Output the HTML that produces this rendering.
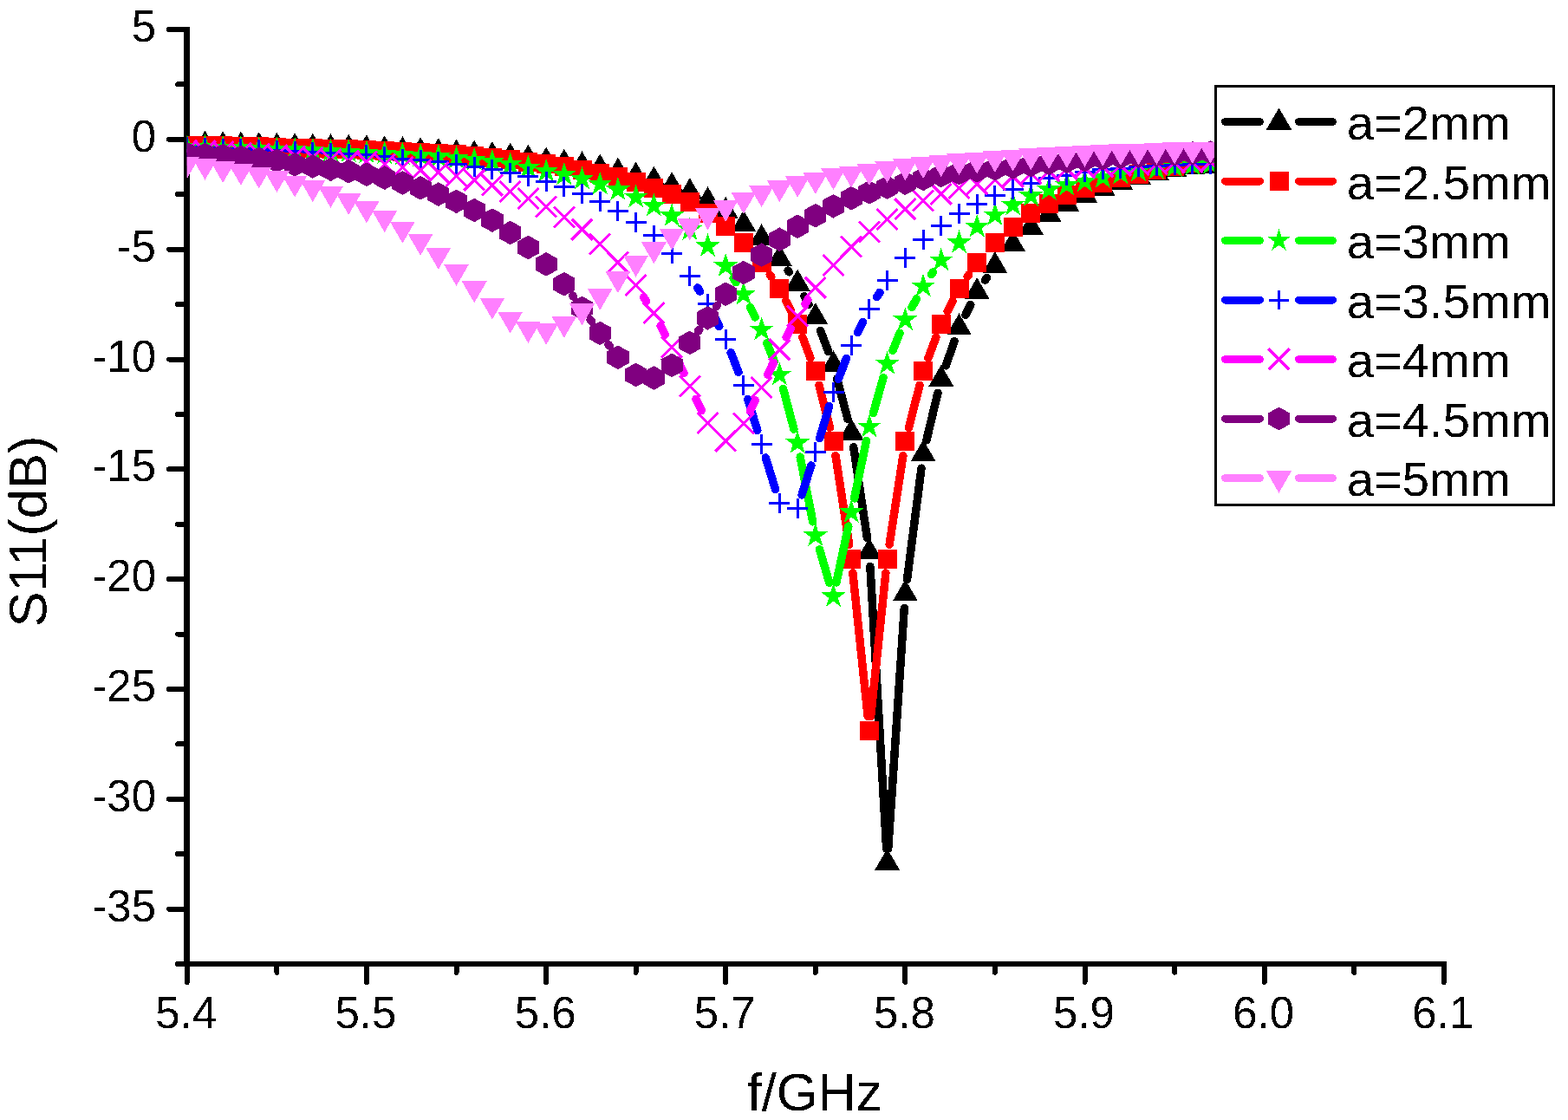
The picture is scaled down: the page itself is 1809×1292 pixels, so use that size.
<!DOCTYPE html>
<html><head><meta charset="utf-8"><title>S11 vs f</title>
<style>
html,body{margin:0;padding:0;background:#fff;}
body{width:1809px;height:1292px;overflow:hidden;}
svg{display:block;}
text{font-family:"Liberation Sans",sans-serif;fill:#000;}
</style></head><body>
<svg width="1809" height="1292" viewBox="0 0 1809 1292" shape-rendering="crispEdges">
<rect width="1809" height="1292" fill="#fff"/>
<defs><filter id="bw" x="0" y="0" width="1" height="1"><feComponentTransfer><feFuncA type="discrete" tableValues="0 1"/></feComponentTransfer></filter><clipPath id="pc"><rect x="215.6" y="0" width="1460" height="1112"/></clipPath></defs>
<path d="M215.5 31V1115" stroke="#000" stroke-width="7" fill="none"/>
<path d="M212.6 1112H1668.8" stroke="#000" stroke-width="6" fill="none"/>
<path d="M215.6 34H195M215.6 160.8H195M215.6 287.6H195M215.6 414.5H195M215.6 541.3H195M215.6 668.1H195M215.6 794.9H195M215.6 921.8H195M215.6 1048.6H195M215.6 97.4H205M215.6 224.2H205M215.6 351.1H205M215.6 477.9H205M215.6 604.7H205M215.6 731.5H205M215.6 858.4H205M215.6 985.2H205M215.6 1112H205M215.8 1112V1133M422.9 1112V1133M630.1 1112V1133M837.2 1112V1133M1044.4 1112V1133M1251.5 1112V1133M1458.6 1112V1133M1665.8 1112V1133M319.4 1112V1121.7M526.5 1112V1121.7M733.6 1112V1121.7M940.8 1112V1121.7M1147.9 1112V1121.7M1355.1 1112V1121.7M1562.2 1112V1121.7" stroke="#000" stroke-width="6" stroke-linecap="round" fill="none"/>
<g filter="url(#bw)"><g font-size="51"><text x="180" y="48" text-anchor="end">5</text><text x="180" y="174.8" text-anchor="end">0</text><text x="180" y="301.6" text-anchor="end">-5</text><text x="180" y="428.5" text-anchor="end">-10</text><text x="180" y="555.3" text-anchor="end">-15</text><text x="180" y="682.1" text-anchor="end">-20</text><text x="180" y="808.9" text-anchor="end">-25</text><text x="180" y="935.8" text-anchor="end">-30</text><text x="180" y="1062.6" text-anchor="end">-35</text><text x="214.8" y="1186" text-anchor="middle">5.4</text><text x="421.9" y="1186" text-anchor="middle">5.5</text><text x="629.1" y="1186" text-anchor="middle">5.6</text><text x="836.2" y="1186" text-anchor="middle">5.7</text><text x="1043.4" y="1186" text-anchor="middle">5.8</text><text x="1250.5" y="1186" text-anchor="middle">5.9</text><text x="1457.6" y="1186" text-anchor="middle">6.0</text><text x="1664.8" y="1186" text-anchor="middle">6.1</text></g>
<text x="940" y="1281" font-size="61.2" text-anchor="middle">f/GHz</text>
<text transform="translate(53.4 613) rotate(-90)" font-size="61.5" text-anchor="middle">S11(dB)</text></g>
<g clip-path="url(#pc)">
<path d="M909.1 312.1L910.4 313.8M927.9 341.7L933 351.3M946.6 381.3L955.7 405.5M965.7 436.9L978 483.4M984.7 515.7L1000.5 620.7M1003.9 653.4L1022.7 979M1024.7 979L1043.3 701.4M1046.5 668.6L1063 540.2M1068.9 507.8L1081.9 453.4M1091.2 421.8L1101.1 393.6M1113.9 363.3L1119.8 351.5M1136.6 323.2L1138.6 320.3" stroke="#000000" stroke-width="9.5" stroke-linecap="round" fill="none"/>
<path d="M215.8 150.3L230.3 175.3L201.3 175.3ZM236.5 150.6L251 175.6L222 175.6ZM257.2 151.3L271.7 176.3L242.7 176.3ZM277.9 151.7L292.4 176.7L263.4 176.7ZM298.7 152.3L313.2 177.3L284.2 177.3ZM319.4 152.7L333.9 177.7L304.9 177.7ZM340.1 153.1L354.6 178.1L325.6 178.1ZM360.8 153.6L375.3 178.6L346.3 178.6ZM381.5 154.2L396 179.2L367 179.2ZM402.2 154.7L416.7 179.7L387.7 179.7ZM422.9 155.4L437.4 180.4L408.4 180.4ZM443.7 156.4L458.2 181.4L429.2 181.4ZM464.4 157.3L478.9 182.3L449.9 182.3ZM485.1 158.3L499.6 183.3L470.6 183.3ZM505.8 159.2L520.3 184.2L491.3 184.2ZM526.5 160.5L541 185.5L512 185.5ZM547.2 161.6L561.7 186.6L532.7 186.6ZM567.9 163L582.4 188L553.4 188ZM588.7 164.5L603.2 189.5L574.2 189.5ZM609.4 166.6L623.9 191.6L594.9 191.6ZM630.1 169.5L644.6 194.5L615.6 194.5ZM650.8 171.6L665.3 196.6L636.3 196.6ZM671.5 174.4L686 199.4L657 199.4ZM692.2 177.5L706.7 202.5L677.7 202.5ZM712.9 181.7L727.4 206.7L698.4 206.7ZM733.6 186.6L748.1 211.6L719.1 211.6ZM754.4 191.6L768.9 216.6L739.9 216.6ZM775.1 198.3L789.6 223.3L760.6 223.3ZM795.8 205.2L810.3 230.2L781.3 230.2ZM816.5 215.3L831 240.3L802 240.3ZM837.2 226.9L851.7 251.9L822.7 251.9ZM857.9 242.4L872.4 267.4L843.4 267.4ZM878.6 258.3L893.1 283.3L864.1 283.3ZM899.4 282.1L913.9 307.1L884.9 307.1ZM920.1 310.5L934.6 335.5L905.6 335.5ZM940.8 349.2L955.3 374.2L926.3 374.2ZM961.5 404.3L976 429.3L947 429.3ZM982.2 482.7L996.7 507.7L967.7 507.7ZM1002.9 620.3L1017.4 645.3L988.4 645.3ZM1023.6 978.8L1038.1 1003.8L1009.1 1003.8ZM1044.4 668.3L1058.9 693.3L1029.9 693.3ZM1065.1 507.2L1079.6 532.2L1050.6 532.2ZM1085.8 420.7L1100.3 445.7L1071.3 445.7ZM1106.5 361.4L1121 386.4L1092 386.4ZM1127.2 320.1L1141.7 345.1L1112.7 345.1ZM1147.9 290.1L1162.4 315.1L1133.4 315.1ZM1168.6 265.2L1183.1 290.2L1154.1 290.2ZM1189.4 245.8L1203.9 270.8L1174.9 270.8ZM1210.1 231L1224.6 256L1195.6 256ZM1230.8 218.9L1245.3 243.9L1216.3 243.9ZM1251.5 208.8L1266 233.8L1237 233.8ZM1272.2 200.9L1286.7 225.9L1257.7 225.9ZM1292.9 194.3L1307.4 219.3L1278.4 219.3ZM1313.6 188.2L1328.1 213.2L1299.1 213.2ZM1334.4 182.9L1348.9 207.9L1319.9 207.9ZM1355.1 179.1L1369.6 204.1L1340.6 204.1ZM1375.8 175.9L1390.3 200.9L1361.3 200.9ZM1396.5 174.6L1411 199.6L1382 199.6ZM1417.2 173.5L1431.7 198.5L1402.7 198.5ZM1437.9 172.6L1452.4 197.6L1423.4 197.6ZM1458.6 171.8L1473.1 196.8L1444.1 196.8ZM1479.4 171.1L1493.9 196.1L1464.9 196.1ZM1500.1 170.5L1514.6 195.5L1485.6 195.5ZM1520.8 170L1535.3 195L1506.3 195ZM1541.5 169.6L1556 194.6L1527 194.6ZM1562.2 169.2L1576.7 194.2L1547.7 194.2ZM1582.9 168.9L1597.4 193.9L1568.4 193.9ZM1603.6 168.7L1618.1 193.7L1589.1 193.7ZM1624.4 168.5L1638.9 193.5L1609.9 193.5ZM1645.1 168.3L1659.6 193.3L1630.6 193.3ZM1665.8 168.1L1680.3 193.1L1651.3 193.1Z" fill="#000000"/>
<path d="M888.2 316.9L889.8 319.2M906.8 347.4L912.6 358.9M925.9 389L935 413M944.9 444.4L957.4 493.3M964 525.6L979.7 628.2M983.9 660.9L1001.2 826.5M1004.6 826.5L1021.9 660.9M1026.1 628.2L1041.9 525.6M1048.5 493.3L1061 444.4M1070.9 413L1080 389M1093.2 358.9L1099 347.4M1116 319.2L1117.7 316.9" stroke="#ff0000" stroke-width="9.5" stroke-linecap="round" fill="none"/>
<path d="M204.8 156.7h22v22h-22ZM225.5 157h22v22h-22ZM246.2 157.4h22v22h-22ZM266.9 157.9h22v22h-22ZM287.7 158.4h22v22h-22ZM308.4 159h22v22h-22ZM329.1 159.6h22v22h-22ZM349.8 160.2h22v22h-22ZM370.5 160.8h22v22h-22ZM391.2 161.4h22v22h-22ZM411.9 162.1h22v22h-22ZM432.7 163h22v22h-22ZM453.4 164h22v22h-22ZM474.1 165h22v22h-22ZM494.8 166.1h22v22h-22ZM515.5 167.4h22v22h-22ZM536.2 168.9h22v22h-22ZM556.9 170.7h22v22h-22ZM577.7 172.7h22v22h-22ZM598.4 175.5h22v22h-22ZM619.1 177.5h22v22h-22ZM639.8 180.6h22v22h-22ZM660.5 184.7h22v22h-22ZM681.2 188.6h22v22h-22ZM701.9 192.6h22v22h-22ZM722.6 198.5h22v22h-22ZM743.4 205.5h22v22h-22ZM764.1 213.3h22v22h-22ZM784.8 222h22v22h-22ZM805.5 235h22v22h-22ZM826.2 249.8h22v22h-22ZM846.9 268.7h22v22h-22ZM867.6 292.4h22v22h-22ZM888.4 321.7h22v22h-22ZM909.1 362.6h22v22h-22ZM929.8 417.4h22v22h-22ZM950.5 498.3h22v22h-22ZM971.2 633.5h22v22h-22ZM991.9 831.9h22v22h-22ZM1012.6 633.5h22v22h-22ZM1033.4 498.3h22v22h-22ZM1054.1 417.4h22v22h-22ZM1074.8 362.6h22v22h-22ZM1095.5 321.7h22v22h-22ZM1116.2 292.4h22v22h-22ZM1136.9 268.7h22v22h-22ZM1157.6 250.8h22v22h-22ZM1178.4 235h22v22h-22ZM1199.1 224h22v22h-22ZM1219.8 213.6h22v22h-22ZM1240.5 205.8h22v22h-22ZM1261.2 199.5h22v22h-22ZM1281.9 194h22v22h-22ZM1302.6 189.5h22v22h-22ZM1323.4 184.6h22v22h-22ZM1344.1 180.8h22v22h-22ZM1364.8 177h22v22h-22ZM1385.5 175.1h22v22h-22ZM1406.2 173.5h22v22h-22ZM1426.9 172.1h22v22h-22ZM1447.6 170.9h22v22h-22ZM1468.4 170h22v22h-22ZM1489.1 169.1h22v22h-22ZM1509.8 168.4h22v22h-22ZM1530.5 167.8h22v22h-22ZM1551.2 167.3h22v22h-22ZM1571.9 166.8h22v22h-22ZM1592.6 166.5h22v22h-22ZM1613.4 166.1h22v22h-22ZM1634.1 165.9h22v22h-22ZM1654.8 165.6h22v22h-22Z" fill="#ff0000"/>
<path d="M846 320.9L849.1 325.8M865.4 354.4L871.2 365.8M884.8 395.8L893.3 417.2M903.6 448.5L915.9 495M923.2 527.2L937.7 601.8M945.5 633.8L956.8 672.2M964.9 671.9L978.8 607.1M985.6 574.9L999.5 508.4M1007.5 476.4L1019.1 435.6M1029.9 404.4L1038.1 384.3M1052.1 354.5L1057.3 344.8M1074.4 316.7L1076.4 313.9" stroke="#00ff00" stroke-width="9.5" stroke-linecap="round" fill="none"/>
<path d="M215.8 154.7L219.1 164.9L229.9 164.9L221.2 171.2L224.5 181.5L215.8 175.2L207.1 181.5L210.4 171.2L201.7 164.9L212.5 164.9ZM236.5 155.2L239.8 165.4L250.6 165.4L241.9 171.7L245.2 182L236.5 175.7L227.8 182L231.1 171.7L222.4 165.4L233.2 165.4ZM257.2 155.6L260.6 165.8L271.3 165.8L262.6 172.1L265.9 182.4L257.2 176.1L248.5 182.4L251.9 172.1L243.2 165.8L253.9 165.8ZM277.9 156.2L281.3 166.4L292 166.4L283.3 172.7L286.6 183L277.9 176.7L269.2 183L272.6 172.7L263.9 166.4L274.6 166.4ZM298.7 157L302 167.2L312.7 167.2L304 173.5L307.4 183.8L298.7 177.5L290 183.8L293.3 173.5L284.6 167.2L295.3 167.2ZM319.4 157.6L322.7 167.8L333.4 167.8L324.7 174.1L328.1 184.4L319.4 178.1L310.7 184.4L314 174.1L305.3 167.8L316 167.8ZM340.1 158.2L343.4 168.4L354.2 168.4L345.5 174.7L348.8 185L340.1 178.7L331.4 185L334.7 174.7L326 168.4L336.8 168.4ZM360.8 158.8L364.1 169L374.9 169L366.2 175.3L369.5 185.6L360.8 179.3L352.1 185.6L355.4 175.3L346.7 169L357.5 169ZM381.5 159.5L384.8 169.7L395.6 169.7L386.9 176L390.2 186.3L381.5 180L372.8 186.3L376.1 176L367.4 169.7L378.2 169.7ZM402.2 160.3L405.5 170.5L416.3 170.5L407.6 176.8L410.9 187.1L402.2 180.8L393.5 187.1L396.8 176.8L388.2 170.5L398.9 170.5ZM422.9 161.4L426.3 171.6L437 171.6L428.3 177.9L431.6 188.2L422.9 181.9L414.2 188.2L417.6 177.9L408.9 171.6L419.6 171.6ZM443.7 162.5L447 172.7L457.7 172.7L449 179L452.4 189.3L443.7 183L435 189.3L438.3 179L429.6 172.7L440.3 172.7ZM464.4 163.6L467.7 173.8L478.4 173.8L469.7 180.1L473.1 190.4L464.4 184.1L455.7 190.4L459 180.1L450.3 173.8L461 173.8ZM485.1 164.8L488.4 175L499.2 175L490.5 181.3L493.8 191.6L485.1 185.3L476.4 191.6L479.7 181.3L471 175L481.8 175ZM505.8 166.2L509.1 176.4L519.9 176.4L511.2 182.7L514.5 193L505.8 186.7L497.1 193L500.4 182.7L491.7 176.4L502.5 176.4ZM526.5 167.8L529.8 178L540.6 178L531.9 184.3L535.2 194.6L526.5 188.3L517.8 194.6L521.1 184.3L512.4 178L523.2 178ZM547.2 169.6L550.5 179.8L561.3 179.8L552.6 186.1L555.9 196.4L547.2 190.1L538.5 196.4L541.8 186.1L533.1 179.8L543.9 179.8ZM567.9 171.8L571.3 182L582 182L573.3 188.3L576.6 198.6L567.9 192.3L559.2 198.6L562.6 188.3L553.9 182L564.6 182ZM588.7 175L592 185.2L602.7 185.2L594 191.5L597.4 201.8L588.7 195.5L580 201.8L583.3 191.5L574.6 185.2L585.3 185.2ZM609.4 178.7L612.7 188.9L623.4 188.9L614.7 195.2L618.1 205.5L609.4 199.2L600.7 205.5L604 195.2L595.3 188.9L606 188.9ZM630.1 182.7L633.4 192.9L644.2 192.9L635.5 199.2L638.8 209.5L630.1 203.2L621.4 209.5L624.7 199.2L616 192.9L626.8 192.9ZM650.8 186.7L654.1 196.9L664.9 196.9L656.2 203.2L659.5 213.5L650.8 207.2L642.1 213.5L645.4 203.2L636.7 196.9L647.5 196.9ZM671.5 191.5L674.8 201.7L685.6 201.7L676.9 208L680.2 218.3L671.5 212L662.8 218.3L666.1 208L657.4 201.7L668.2 201.7ZM692.2 197.7L695.5 207.9L706.3 207.9L697.6 214.2L700.9 224.5L692.2 218.2L683.5 224.5L686.8 214.2L678.1 207.9L688.9 207.9ZM712.9 204.2L716.3 214.4L727 214.4L718.3 220.7L721.6 231L712.9 224.7L704.2 231L707.6 220.7L698.9 214.4L709.6 214.4ZM733.6 212.7L737 222.9L747.7 222.9L739 229.2L742.3 239.5L733.6 233.2L725 239.5L728.3 229.2L719.6 222.9L730.3 222.9ZM754.4 222.7L757.7 232.9L768.4 232.9L759.7 239.2L763.1 249.5L754.4 243.2L745.7 249.5L749 239.2L740.3 232.9L751 232.9ZM775.1 234.2L778.4 244.4L789.2 244.4L780.5 250.7L783.8 261L775.1 254.7L766.4 261L769.7 250.7L761 244.4L771.8 244.4ZM795.8 250.2L799.1 260.4L809.9 260.4L801.2 266.7L804.5 277L795.8 270.7L787.1 277L790.4 266.7L781.7 260.4L792.5 260.4ZM816.5 269.2L819.8 279.4L830.6 279.4L821.9 285.7L825.2 296L816.5 289.7L807.8 296L811.1 285.7L802.4 279.4L813.2 279.4ZM837.2 292.2L840.5 302.4L851.3 302.4L842.6 308.7L845.9 319L837.2 312.7L828.5 319L831.8 308.7L823.1 302.4L833.9 302.4ZM857.9 324.9L861.3 335.1L872 335.1L863.3 341.4L866.6 351.7L857.9 345.4L849.2 351.7L852.6 341.4L843.9 335.1L854.6 335.1ZM878.6 365.7L882 375.9L892.7 375.9L884 382.2L887.3 392.5L878.6 386.2L869.9 392.5L873.3 382.2L864.6 375.9L875.3 375.9ZM899.4 417.7L902.7 427.9L913.4 427.9L904.7 434.2L908.1 444.5L899.4 438.2L890.7 444.5L894 434.2L885.3 427.9L896 427.9ZM920.1 496.2L923.4 506.4L934.2 506.4L925.5 512.7L928.8 523L920.1 516.7L911.4 523L914.7 512.7L906 506.4L916.8 506.4ZM940.8 603.2L944.1 613.4L954.9 613.4L946.2 619.7L949.5 630L940.8 623.7L932.1 630L935.4 619.7L926.7 613.4L937.5 613.4ZM961.5 673.2L964.8 683.4L975.6 683.4L966.9 689.7L970.2 700L961.5 693.7L952.8 700L956.1 689.7L947.4 683.4L958.2 683.4ZM982.2 576.2L985.5 586.4L996.3 586.4L987.6 592.7L990.9 603L982.2 596.7L973.5 603L976.8 592.7L968.1 586.4L978.9 586.4ZM1002.9 477.5L1006.3 487.7L1017 487.7L1008.3 494L1011.6 504.3L1002.9 498L994.2 504.3L997.6 494L988.9 487.7L999.6 487.7ZM1023.6 404.9L1027 415.1L1037.7 415.1L1029 421.4L1032.3 431.7L1023.6 425.4L1014.9 431.7L1018.3 421.4L1009.6 415.1L1020.3 415.1ZM1044.4 354.2L1047.7 364.4L1058.4 364.4L1049.7 370.7L1053.1 381L1044.4 374.7L1035.7 381L1039 370.7L1030.3 364.4L1041 364.4ZM1065.1 315.5L1068.4 325.7L1079.1 325.7L1070.5 332L1073.8 342.3L1065.1 336L1056.4 342.3L1059.7 332L1051 325.7L1061.8 325.7ZM1085.8 285.5L1089.1 295.7L1099.9 295.7L1091.2 302L1094.5 312.3L1085.8 306L1077.1 312.3L1080.4 302L1071.7 295.7L1082.5 295.7ZM1106.5 265.2L1109.8 275.4L1120.6 275.4L1111.9 281.7L1115.2 292L1106.5 285.7L1097.8 292L1101.1 281.7L1092.4 275.4L1103.2 275.4ZM1127.2 246.8L1130.5 257L1141.3 257L1132.6 263.3L1135.9 273.6L1127.2 267.3L1118.5 273.6L1121.8 263.3L1113.1 257L1123.9 257ZM1147.9 233.3L1151.3 243.5L1162 243.5L1153.3 249.8L1156.6 260.1L1147.9 253.8L1139.2 260.1L1142.6 249.8L1133.9 243.5L1144.6 243.5ZM1168.6 221.7L1172 231.9L1182.7 231.9L1174 238.2L1177.3 248.5L1168.6 242.2L1159.9 248.5L1163.3 238.2L1154.6 231.9L1165.3 231.9ZM1189.4 211.2L1192.7 221.4L1203.4 221.4L1194.7 227.7L1198.1 238L1189.4 231.7L1180.7 238L1184 227.7L1175.3 221.4L1186 221.4ZM1210.1 204.2L1213.4 214.4L1224.1 214.4L1215.4 220.7L1218.8 231L1210.1 224.7L1201.4 231L1204.7 220.7L1196 214.4L1206.7 214.4ZM1230.8 198.9L1234.1 209.1L1244.9 209.1L1236.2 215.4L1239.5 225.7L1230.8 219.4L1222.1 225.7L1225.4 215.4L1216.7 209.1L1227.5 209.1ZM1251.5 194.5L1254.8 204.7L1265.6 204.7L1256.9 211L1260.2 221.3L1251.5 215L1242.8 221.3L1246.1 211L1237.4 204.7L1248.2 204.7ZM1272.2 190L1275.5 200.2L1286.3 200.2L1277.6 206.5L1280.9 216.8L1272.2 210.5L1263.5 216.8L1266.8 206.5L1258.1 200.2L1268.9 200.2ZM1292.9 185.6L1296.3 195.8L1307 195.8L1298.3 202.1L1301.6 212.4L1292.9 206.1L1284.2 212.4L1287.6 202.1L1278.9 195.8L1289.6 195.8ZM1313.6 182.4L1317 192.6L1327.7 192.6L1319 198.9L1322.3 209.2L1313.6 202.9L1304.9 209.2L1308.3 198.9L1299.6 192.6L1310.3 192.6ZM1334.4 179.9L1337.7 190.1L1348.4 190.1L1339.7 196.4L1343.1 206.7L1334.4 200.4L1325.7 206.7L1329 196.4L1320.3 190.1L1331 190.1ZM1355.1 177.3L1358.4 187.5L1369.1 187.5L1360.4 193.8L1363.8 204.1L1355.1 197.8L1346.4 204.1L1349.7 193.8L1341 187.5L1351.7 187.5ZM1375.8 175.4L1379.1 185.6L1389.9 185.6L1381.2 191.9L1384.5 202.2L1375.8 195.9L1367.1 202.2L1370.4 191.9L1361.7 185.6L1372.5 185.6ZM1396.5 174.2L1399.8 184.4L1410.6 184.4L1401.9 190.7L1405.2 201L1396.5 194.7L1387.8 201L1391.1 190.7L1382.4 184.4L1393.2 184.4ZM1417.2 173.2L1420.5 183.4L1431.3 183.4L1422.6 189.7L1425.9 200L1417.2 193.6L1408.5 200L1411.8 189.7L1403.1 183.4L1413.9 183.4ZM1437.9 172.3L1441.2 182.5L1452 182.5L1443.3 188.9L1446.6 199.1L1437.9 192.8L1429.2 199.1L1432.5 188.9L1423.9 182.5L1434.6 182.5ZM1458.6 171.6L1462 181.8L1472.7 181.8L1464 188.1L1467.3 198.3L1458.6 192L1449.9 198.3L1453.3 188.1L1444.6 181.8L1455.3 181.8ZM1479.4 170.9L1482.7 181.2L1493.4 181.2L1484.7 187.5L1488.1 197.7L1479.4 191.4L1470.7 197.7L1474 187.5L1465.3 181.2L1476 181.2ZM1500.1 170.4L1503.4 180.6L1514.1 180.6L1505.4 187L1508.8 197.2L1500.1 190.9L1491.4 197.2L1494.7 187L1486 180.6L1496.7 180.6ZM1520.8 170L1524.1 180.2L1534.9 180.2L1526.2 186.5L1529.5 196.7L1520.8 190.4L1512.1 196.7L1515.4 186.5L1506.7 180.2L1517.5 180.2ZM1541.5 169.6L1544.8 179.8L1555.6 179.8L1546.9 186.1L1550.2 196.4L1541.5 190L1532.8 196.4L1536.1 186.1L1527.4 179.8L1538.2 179.8ZM1562.2 169.3L1565.5 179.5L1576.3 179.5L1567.6 185.8L1570.9 196L1562.2 189.7L1553.5 196L1556.8 185.8L1548.1 179.5L1558.9 179.5ZM1582.9 169L1586.2 179.2L1597 179.2L1588.3 185.5L1591.6 195.7L1582.9 189.4L1574.2 195.7L1577.5 185.5L1568.8 179.2L1579.6 179.2ZM1603.6 168.7L1607 179L1617.7 179L1609 185.3L1612.3 195.5L1603.6 189.2L1594.9 195.5L1598.3 185.3L1589.6 179L1600.3 179ZM1624.4 168.5L1627.7 178.8L1638.4 178.8L1629.7 185.1L1633.1 195.3L1624.4 189L1615.7 195.3L1619 185.1L1610.3 178.8L1621 178.8ZM1645.1 168.4L1648.4 178.6L1659.1 178.6L1650.4 184.9L1653.8 195.1L1645.1 188.8L1636.4 195.1L1639.7 184.9L1631 178.6L1641.7 178.6ZM1665.8 168.2L1669.1 178.4L1679.9 178.4L1671.2 184.8L1674.5 195L1665.8 188.7L1657.1 195L1660.4 184.8L1651.7 178.4L1662.5 178.4Z" fill="#00ff00"/>
<path d="M804.8 331.9L807.5 336.1M823.9 364.7L829.8 376.6M843.2 406.7L852 429.3M862.8 460.5L873.8 496.5M883.4 528.1L894.6 564.6M925.1 570.8L935.8 537M945.6 505.5L956.7 468.4M967.4 437.2L976.3 413.6M989.6 383.4L995.6 371.3M1011.7 342.5L1014.9 337.5" stroke="#0000ff" stroke-width="9.5" stroke-linecap="round" fill="none"/>
<path d="M203.8 169.5h24M215.8 158v23M224.5 170.3h24M236.5 158.8v23M245.2 171h24M257.2 159.5v23M265.9 171.8h24M277.9 160.3v23M286.7 172.6h24M298.7 161.1v23M307.4 173.4h24M319.4 161.9v23M328.1 174.3h24M340.1 162.8v23M348.8 175.2h24M360.8 163.7v23M369.5 176.2h24M381.5 164.7v23M390.2 177.3h24M402.2 165.8v23M410.9 178.8h24M422.9 167.3v23M431.7 180.7h24M443.7 169.2v23M452.4 183h24M464.4 171.5v23M473.1 184.5h24M485.1 173v23M493.8 186.4h24M505.8 174.9v23M514.5 189.5h24M526.5 178v23M535.2 192.3h24M547.2 180.8v23M555.9 195.4h24M567.9 183.9v23M576.7 199.7h24M588.7 188.2v23M597.4 203.7h24M609.4 192.2v23M618.1 209.2h24M630.1 197.7v23M638.8 215.5h24M650.8 204v23M659.5 223.3h24M671.5 211.8v23M680.2 232.3h24M692.2 220.8v23M700.9 243.3h24M712.9 231.8v23M721.6 256.1h24M733.6 244.6v23M742.4 271.9h24M754.4 260.4v23M763.1 292.8h24M775.1 281.3v23M783.8 318h24M795.8 306.5v23M804.5 350h24M816.5 338.5v23M825.2 391.3h24M837.2 379.8v23M845.9 444.7h24M857.9 433.2v23M866.6 512.3h24M878.6 500.8v23M887.4 580.4h24M899.4 568.9v23M908.1 586.5h24M920.1 575v23M928.8 521.3h24M940.8 509.8v23M949.5 452.6h24M961.5 441.1v23M970.2 398.2h24M982.2 386.7v23M990.9 356.5h24M1002.9 345v23M1011.6 323.5h24M1023.6 312v23M1032.4 297.4h24M1044.4 285.9v23M1053.1 276.1h24M1065.1 264.6v23M1073.8 260.3h24M1085.8 248.8v23M1094.5 246.1h24M1106.5 234.6v23M1115.2 235.5h24M1127.2 224v23M1135.9 225.8h24M1147.9 214.3v23M1156.6 218.1h24M1168.6 206.6v23M1177.4 211.6h24M1189.4 200.1v23M1198.1 205.8h24M1210.1 194.3v23M1218.8 202h24M1230.8 190.5v23M1239.5 198.6h24M1251.5 187.1v23M1260.2 195.9h24M1272.2 184.4v23M1280.9 194h24M1292.9 182.5v23M1301.6 192.8h24M1313.6 181.3v23M1322.4 191.5h24M1334.4 180v23M1343.1 190.2h24M1355.1 178.7v23M1363.8 189.6h24M1375.8 178.1v23M1384.5 189h24M1396.5 177.5v23M1405.2 188.5h24M1417.2 177v23M1425.9 188.1h24M1437.9 176.6v23M1446.6 187.7h24M1458.6 176.2v23M1467.4 187.4h24M1479.4 175.9v23M1488.1 187.1h24M1500.1 175.6v23M1508.8 186.9h24M1520.8 175.4v23M1529.5 186.7h24M1541.5 175.2v23M1550.2 186.5h24M1562.2 175v23M1570.9 186.4h24M1582.9 174.9v23M1591.6 186.3h24M1603.6 174.8v23M1612.4 186.2h24M1624.4 174.7v23M1633.1 186.1h24M1645.1 174.6v23M1653.8 186h24M1665.8 174.5v23" stroke="#0000ff" stroke-width="3" fill="none"/>
<path d="M742.6 342.9L745.5 347.4M762.1 375.9L767.4 386M782 415.6L788.9 430.5M803 460.4L809.3 473.4M865.3 473.9L871.3 461.9M885.7 432.2L892.3 418.4M907.1 389L912.3 379.3M928.9 350.8L932 345.9" stroke="#ff00ff" stroke-width="9.5" stroke-linecap="round" fill="none"/>
<path d="M203.8 162L227.8 186M203.8 186L227.8 162M224.5 162.5L248.5 186.5M224.5 186.5L248.5 162.5M245.2 163.1L269.2 187.1M245.2 187.1L269.2 163.1M265.9 164.3L289.9 188.3M265.9 188.3L289.9 164.3M286.7 165.5L310.7 189.5M286.7 189.5L310.7 165.5M307.4 166.8L331.4 190.8M307.4 190.8L331.4 166.8M328.1 168.2L352.1 192.2M328.1 192.2L352.1 168.2M348.8 169.9L372.8 193.9M348.8 193.9L372.8 169.9M369.5 171.7L393.5 195.7M369.5 195.7L393.5 171.7M390.2 173.7L414.2 197.7M390.2 197.7L414.2 173.7M410.9 174.8L434.9 198.8M410.9 198.8L434.9 174.8M431.7 177.5L455.7 201.5M431.7 201.5L455.7 177.5M452.4 180.8L476.4 204.8M452.4 204.8L476.4 180.8M473.1 184.1L497.1 208.1M473.1 208.1L497.1 184.1M493.8 186.9L517.8 210.9M493.8 210.9L517.8 186.9M514.5 190.8L538.5 214.8M514.5 214.8L538.5 190.8M535.2 195.7L559.2 219.7M535.2 219.7L559.2 195.7M555.9 201.8L579.9 225.8M555.9 225.8L579.9 201.8M576.7 208.9L600.7 232.9M576.7 232.9L600.7 208.9M597.4 217L621.4 241M597.4 241L621.4 217M618.1 226.5L642.1 250.5M618.1 250.5L642.1 226.5M638.8 238.6L662.8 262.6M638.8 262.6L662.8 238.6M659.5 252.6L683.5 276.6M659.5 276.6L683.5 252.6M680.2 269.6L704.2 293.6M680.2 293.6L704.2 269.6M700.9 290.9L724.9 314.9M700.9 314.9L724.9 290.9M721.6 317L745.6 341M721.6 341L745.6 317M742.4 349.3L766.4 373.3M742.4 373.3L766.4 349.3M763.1 388.6L787.1 412.6M763.1 412.6L787.1 388.6M783.8 433.5L807.8 457.5M783.8 457.5L807.8 433.5M804.5 476.3L828.5 500.3M804.5 500.3L828.5 476.3M825.2 496.7L849.2 520.7M825.2 520.7L849.2 496.7M845.9 476.7L869.9 500.7M845.9 500.7L869.9 476.7M866.6 435.1L890.6 459.1M866.6 459.1L890.6 435.1M887.4 391.5L911.4 415.5M887.4 415.5L911.4 391.5M908.1 352.8L932.1 376.8M908.1 376.8L932.1 352.8M928.8 319.9L952.8 343.9M928.8 343.9L952.8 319.9M949.5 293.8L973.5 317.8M949.5 317.8L973.5 293.8M970.2 272.8L994.2 296.8M970.2 296.8L994.2 272.8M990.9 255.4L1014.9 279.4M990.9 279.4L1014.9 255.4M1011.6 240.9L1035.6 264.9M1011.6 264.9L1035.6 240.9M1032.4 229.3L1056.4 253.3M1032.4 253.3L1056.4 229.3M1053.1 219.6L1077.1 243.6M1053.1 243.6L1077.1 219.6M1073.8 211.9L1097.8 235.9M1073.8 235.9L1097.8 211.9M1094.5 205.1L1118.5 229.1M1094.5 229.1L1118.5 205.1M1115.2 200.3L1139.2 224.3M1115.2 224.3L1139.2 200.3M1135.9 195.4L1159.9 219.4M1135.9 219.4L1159.9 195.4M1156.6 191.5L1180.6 215.5M1156.6 215.5L1180.6 191.5M1177.4 188.2L1201.4 212.2M1177.4 212.2L1201.4 188.2M1198.1 185.2L1222.1 209.2M1198.1 209.2L1222.1 185.2M1218.8 182.7L1242.8 206.7M1218.8 206.7L1242.8 182.7M1239.5 181.4L1263.5 205.4M1239.5 205.4L1263.5 181.4M1260.2 180.1L1284.2 204.1M1260.2 204.1L1284.2 180.1M1280.9 178.9L1304.9 202.9M1280.9 202.9L1304.9 178.9M1301.6 178.2L1325.6 202.2M1301.6 202.2L1325.6 178.2M1322.4 177L1346.4 201M1322.4 201L1346.4 177M1343.1 175.7L1367.1 199.7M1343.1 199.7L1367.1 175.7M1363.8 175L1387.8 199M1363.8 199L1387.8 175M1384.5 174.4L1408.5 198.4M1384.5 198.4L1408.5 174.4M1405.2 173.9L1429.2 197.9M1405.2 197.9L1429.2 173.9M1425.9 173.5L1449.9 197.5M1425.9 197.5L1449.9 173.5M1446.6 173.1L1470.6 197.1M1446.6 197.1L1470.6 173.1M1467.4 172.8L1491.4 196.8M1467.4 196.8L1491.4 172.8M1488.1 172.5L1512.1 196.5M1488.1 196.5L1512.1 172.5M1508.8 172.3L1532.8 196.3M1508.8 196.3L1532.8 172.3M1529.5 172.1L1553.5 196.1M1529.5 196.1L1553.5 172.1M1550.2 171.9L1574.2 195.9M1550.2 195.9L1574.2 171.9M1570.9 171.8L1594.9 195.8M1570.9 195.8L1594.9 171.8M1591.6 171.7L1615.6 195.7M1591.6 195.7L1615.6 171.7M1612.4 171.6L1636.4 195.6M1612.4 195.6L1636.4 171.6M1633.1 171.5L1657.1 195.5M1633.1 195.5L1657.1 171.5M1653.8 171.4L1677.8 195.4M1653.8 195.4L1677.8 171.4" stroke="#ff00ff" stroke-width="3" fill="none"/>
<path d="M660.7 340.9L661.6 342.3M681.1 368.9L682.6 371M702.1 397.6L703.1 399.1M805.5 382L806.8 380.2M826.4 353.6L827.3 352.4" stroke="#800080" stroke-width="9.5" stroke-linecap="round" fill="none"/>
<path d="M215.8 163.7L228.4 170.6L228.4 184.4L215.8 191.3L203.2 184.4L203.2 170.6ZM236.5 164.5L249.1 171.4L249.1 185.2L236.5 192.1L223.9 185.2L223.9 171.4ZM257.2 165.6L269.8 172.5L269.8 186.3L257.2 193.2L244.6 186.3L244.6 172.5ZM277.9 167.3L290.5 174.2L290.5 188L277.9 194.9L265.3 188L265.3 174.2ZM298.7 169.5L311.3 176.4L311.3 190.2L298.7 197.1L286.1 190.2L286.1 176.4ZM319.4 171.7L332 178.6L332 192.4L319.4 199.3L306.8 192.4L306.8 178.6ZM340.1 176L352.7 182.9L352.7 196.7L340.1 203.6L327.5 196.7L327.5 182.9ZM360.8 178.2L373.4 185.1L373.4 198.9L360.8 205.8L348.2 198.9L348.2 185.1ZM381.5 181.5L394.1 188.4L394.1 202.2L381.5 209.1L368.9 202.2L368.9 188.4ZM402.2 184L414.8 190.9L414.8 204.7L402.2 211.6L389.6 204.7L389.6 190.9ZM422.9 187.5L435.5 194.4L435.5 208.2L422.9 215.1L410.3 208.2L410.3 194.4ZM443.7 191.4L456.3 198.3L456.3 212.1L443.7 219L431.1 212.1L431.1 198.3ZM464.4 197.2L477 204.1L477 217.9L464.4 224.8L451.8 217.9L451.8 204.1ZM485.1 203L497.7 209.9L497.7 223.7L485.1 230.6L472.5 223.7L472.5 209.9ZM505.8 210.3L518.4 217.2L518.4 231L505.8 237.9L493.2 231L493.2 217.2ZM526.5 218.5L539.1 225.4L539.1 239.2L526.5 246.1L513.9 239.2L513.9 225.4ZM547.2 228.7L559.8 235.6L559.8 249.4L547.2 256.3L534.6 249.4L534.6 235.6ZM567.9 240.3L580.5 247.2L580.5 261L567.9 267.9L555.3 261L555.3 247.2ZM588.7 254.7L601.3 261.6L601.3 275.4L588.7 282.3L576.1 275.4L576.1 261.6ZM609.4 271.7L622 278.6L622 292.4L609.4 299.3L596.8 292.4L596.8 278.6ZM630.1 291L642.7 297.9L642.7 311.7L630.1 318.6L617.5 311.7L617.5 297.9ZM650.8 313.9L663.4 320.8L663.4 334.6L650.8 341.5L638.2 334.6L638.2 320.8ZM671.5 341.7L684.1 348.6L684.1 362.4L671.5 369.3L658.9 362.4L658.9 348.6ZM692.2 370.6L704.8 377.5L704.8 391.3L692.2 398.2L679.6 391.3L679.6 377.5ZM712.9 398.5L725.5 405.4L725.5 419.2L712.9 426.1L700.3 419.2L700.3 405.4ZM733.6 418.7L746.2 425.6L746.2 439.4L733.6 446.3L721.1 439.4L721.1 425.6ZM754.4 422.2L767 429.1L767 442.9L754.4 449.8L741.8 442.9L741.8 429.1ZM775.1 407.6L787.7 414.5L787.7 428.3L775.1 435.2L762.5 428.3L762.5 414.5ZM795.8 381.6L808.4 388.5L808.4 402.3L795.8 409.2L783.2 402.3L783.2 388.5ZM816.5 353L829.1 359.9L829.1 373.7L816.5 380.6L803.9 373.7L803.9 359.9ZM837.2 325.4L849.8 332.3L849.8 346.1L837.2 353L824.6 346.1L824.6 332.3ZM857.9 300.7L870.5 307.6L870.5 321.4L857.9 328.3L845.3 321.4L845.3 307.6ZM878.6 280.4L891.2 287.3L891.2 301.1L878.6 308L866 301.1L866 287.3ZM899.4 262.4L912 269.3L912 283.1L899.4 290L886.8 283.1L886.8 269.3ZM920.1 247.5L932.7 254.4L932.7 268.2L920.1 275.1L907.5 268.2L907.5 254.4ZM940.8 234.9L953.4 241.8L953.4 255.6L940.8 262.5L928.2 255.6L928.2 241.8ZM961.5 224L974.1 230.9L974.1 244.7L961.5 251.6L948.9 244.7L948.9 230.9ZM982.2 214.9L994.8 221.8L994.8 235.6L982.2 242.5L969.6 235.6L969.6 221.8ZM1002.9 208.1L1015.5 215L1015.5 228.8L1002.9 235.7L990.3 228.8L990.3 215ZM1023.6 202.3L1036.2 209.2L1036.2 223L1023.6 229.9L1011 223L1011 209.2ZM1044.4 197.5L1057 204.4L1057 218.2L1044.4 225.1L1031.8 218.2L1031.8 204.4ZM1065.1 192.7L1077.7 199.6L1077.7 213.4L1065.1 220.3L1052.5 213.4L1052.5 199.6ZM1085.8 188.8L1098.4 195.7L1098.4 209.5L1085.8 216.4L1073.2 209.5L1073.2 195.7ZM1106.5 185.9L1119.1 192.8L1119.1 206.6L1106.5 213.5L1093.9 206.6L1093.9 192.8ZM1127.2 183L1139.8 189.9L1139.8 203.7L1127.2 210.6L1114.6 203.7L1114.6 189.9ZM1147.9 181L1160.5 187.9L1160.5 201.7L1147.9 208.6L1135.3 201.7L1135.3 187.9ZM1168.6 179.1L1181.2 186L1181.2 199.8L1168.6 206.7L1156 199.8L1156 186ZM1189.4 176.7L1202 183.6L1202 197.4L1189.4 204.3L1176.8 197.4L1176.8 183.6ZM1210.1 174.5L1222.7 181.4L1222.7 195.2L1210.1 202.1L1197.5 195.2L1197.5 181.4ZM1230.8 172.5L1243.4 179.4L1243.4 193.2L1230.8 200.1L1218.2 193.2L1218.2 179.4ZM1251.5 170.7L1264.1 177.6L1264.1 191.4L1251.5 198.3L1238.9 191.4L1238.9 177.6ZM1272.2 169L1284.8 175.9L1284.8 189.7L1272.2 196.6L1259.6 189.7L1259.6 175.9ZM1292.9 167.5L1305.5 174.4L1305.5 188.2L1292.9 195.1L1280.3 188.2L1280.3 174.4ZM1313.6 166.2L1326.2 173.1L1326.2 186.9L1313.6 193.8L1301 186.9L1301 173.1ZM1334.4 165L1347 171.9L1347 185.7L1334.4 192.6L1321.8 185.7L1321.8 171.9ZM1355.1 163.9L1367.7 170.8L1367.7 184.6L1355.1 191.5L1342.5 184.6L1342.5 170.8ZM1375.8 162.9L1388.4 169.8L1388.4 183.6L1375.8 190.5L1363.2 183.6L1363.2 169.8ZM1396.5 162L1409.1 168.9L1409.1 182.7L1396.5 189.6L1383.9 182.7L1383.9 168.9ZM1417.2 161.2L1429.8 168.1L1429.8 181.9L1417.2 188.8L1404.6 181.9L1404.6 168.1ZM1437.9 160.6L1450.5 167.5L1450.5 181.3L1437.9 188.2L1425.3 181.3L1425.3 167.5ZM1458.6 160L1471.2 166.9L1471.2 180.7L1458.6 187.6L1446 180.7L1446 166.9ZM1479.4 159.6L1492 166.5L1492 180.3L1479.4 187.2L1466.8 180.3L1466.8 166.5ZM1500.1 159.2L1512.7 166.1L1512.7 179.9L1500.1 186.8L1487.5 179.9L1487.5 166.1ZM1520.8 158.8L1533.4 165.7L1533.4 179.5L1520.8 186.4L1508.2 179.5L1508.2 165.7ZM1541.5 158.5L1554.1 165.4L1554.1 179.2L1541.5 186.1L1528.9 179.2L1528.9 165.4ZM1562.2 158.3L1574.8 165.2L1574.8 179L1562.2 185.9L1549.6 179L1549.6 165.2ZM1582.9 158.1L1595.5 165L1595.5 178.8L1582.9 185.7L1570.3 178.8L1570.3 165ZM1603.6 157.9L1616.2 164.8L1616.2 178.6L1603.6 185.5L1591 178.6L1591 164.8ZM1624.4 157.8L1637 164.7L1637 178.5L1624.4 185.4L1611.8 178.5L1611.8 164.7ZM1645.1 157.6L1657.7 164.5L1657.7 178.3L1645.1 185.2L1632.5 178.3L1632.5 164.5ZM1665.8 157.5L1678.4 164.4L1678.4 178.2L1665.8 185.1L1653.2 178.2L1653.2 164.4Z" fill="#800080"/>
<path d="M215.8 205.9L230.3 180.9L201.3 180.9ZM236.5 207.6L251 182.6L222 182.6ZM257.2 210.9L271.7 185.9L242.7 185.9ZM277.9 213.7L292.4 188.7L263.4 188.7ZM298.7 217.5L313.2 192.5L284.2 192.5ZM319.4 222L333.9 197L304.9 197ZM340.1 227.5L354.6 202.5L325.6 202.5ZM360.8 233L375.3 208L346.3 208ZM381.5 239.7L396 214.7L367 214.7ZM402.2 247.8L416.7 222.8L387.7 222.8ZM422.9 257.3L437.4 232.3L408.4 232.3ZM443.7 268L458.2 243L429.2 243ZM464.4 280.6L478.9 255.6L449.9 255.6ZM485.1 294.8L499.6 269.8L470.6 269.8ZM505.8 310.9L520.3 285.9L491.3 285.9ZM526.5 329.9L541 304.9L512 304.9ZM547.2 349.3L561.7 324.3L532.7 324.3ZM567.9 368.5L582.4 343.5L553.4 343.5ZM588.7 384.6L603.2 359.6L574.2 359.6ZM609.4 395.8L623.9 370.8L594.9 370.8ZM630.1 397.7L644.6 372.7L615.6 372.7ZM650.8 389.8L665.3 364.8L636.3 364.8ZM671.5 375.4L686 350.4L657 350.4ZM692.2 357.8L706.7 332.8L677.7 332.8ZM712.9 338.1L727.4 313.1L698.4 313.1ZM733.6 319.7L748.1 294.7L719.1 294.7ZM754.4 304.2L768.9 279.2L739.9 279.2ZM775.1 288.7L789.6 263.7L760.6 263.7ZM795.8 277.1L810.3 252.1L781.3 252.1ZM816.5 265.3L831 240.3L802 240.3ZM837.2 255.8L851.7 230.8L822.7 230.8ZM857.9 246.7L872.4 221.7L843.4 221.7ZM878.6 239L893.1 214L864.1 214ZM899.4 233.1L913.9 208.1L884.9 208.1ZM920.1 227.7L934.6 202.7L905.6 202.7ZM940.8 223.9L955.3 198.9L926.3 198.9ZM961.5 219L976 194L947 194ZM982.2 216.5L996.7 191.5L967.7 191.5ZM1002.9 214L1017.4 189L988.4 189ZM1023.6 211L1038.1 186L1009.1 186ZM1044.4 208.2L1058.9 183.2L1029.9 183.2ZM1065.1 206L1079.6 181L1050.6 181ZM1085.8 204L1100.3 179L1071.3 179ZM1106.5 202.2L1121 177.2L1092 177.2ZM1127.2 200.5L1141.7 175.5L1112.7 175.5ZM1147.9 199L1162.4 174L1133.4 174ZM1168.6 197.6L1183.1 172.6L1154.1 172.6ZM1189.4 196.3L1203.9 171.3L1174.9 171.3ZM1210.1 195.1L1224.6 170.1L1195.6 170.1ZM1230.8 193.9L1245.3 168.9L1216.3 168.9ZM1251.5 192.7L1266 167.7L1237 167.7ZM1272.2 191.8L1286.7 166.8L1257.7 166.8ZM1292.9 191.1L1307.4 166.1L1278.4 166.1ZM1313.6 190.5L1328.1 165.5L1299.1 165.5ZM1334.4 189.9L1348.9 164.9L1319.9 164.9ZM1355.1 189.4L1369.6 164.4L1340.6 164.4ZM1375.8 188.9L1390.3 163.9L1361.3 163.9ZM1396.5 188.5L1411 163.5L1382 163.5ZM1417.2 188.2L1431.7 163.2L1402.7 163.2ZM1437.9 187.9L1452.4 162.9L1423.4 162.9ZM1458.6 187.6L1473.1 162.6L1444.1 162.6ZM1479.4 187.4L1493.9 162.4L1464.9 162.4ZM1500.1 187.2L1514.6 162.2L1485.6 162.2ZM1520.8 187.1L1535.3 162.1L1506.3 162.1ZM1541.5 187L1556 162L1527 162ZM1562.2 186.9L1576.7 161.9L1547.7 161.9ZM1582.9 186.8L1597.4 161.8L1568.4 161.8ZM1603.6 186.7L1618.1 161.7L1589.1 161.7ZM1624.4 186.6L1638.9 161.6L1609.9 161.6ZM1645.1 186.6L1659.6 161.6L1630.6 161.6ZM1665.8 186.5L1680.3 161.5L1651.3 161.5Z" fill="#ff80ff"/>
</g>
<rect x="1402.3" y="99" width="390.1" height="483.6" fill="#fff" stroke="#000" stroke-width="3"/>
<path d="M1413.5 140.5H1453.5M1498.5 140.5H1537.5" stroke="#000000" stroke-width="9" stroke-linecap="round" fill="none"/><path d="M1475.5 124.6L1490.5 150L1460.5 150Z" fill="#000000"/><path d="M1413.5 209H1453.5M1498.5 209H1537.5" stroke="#ff0000" stroke-width="9" stroke-linecap="round" fill="none"/><path d="M1464.5 198h22v22h-22Z" fill="#ff0000"/><path d="M1413.5 277.5H1453.5M1498.5 277.5H1537.5" stroke="#00ff00" stroke-width="9" stroke-linecap="round" fill="none"/><path d="M1475.5 263.7L1478.6 273.2L1488.6 273.2L1480.5 279.1L1483.6 288.7L1475.5 282.8L1467.4 288.7L1470.5 279.1L1462.4 273.2L1472.4 273.2Z" fill="#00ff00"/><path d="M1413.5 346H1453.5M1498.5 346H1537.5" stroke="#0000ff" stroke-width="9" stroke-linecap="round" fill="none"/><path d="M1464 346h23M1475.5 335v22" stroke="#0000ff" stroke-width="3" fill="none"/><path d="M1413.5 414.5H1453.5M1498.5 414.5H1537.5" stroke="#ff00ff" stroke-width="9" stroke-linecap="round" fill="none"/><path d="M1463.5 402.5L1487.5 426.5M1463.5 426.5L1487.5 402.5" stroke="#ff00ff" stroke-width="3" fill="none"/><path d="M1413.5 483H1453.5M1498.5 483H1537.5" stroke="#800080" stroke-width="9" stroke-linecap="round" fill="none"/><path d="M1475.5 469.6L1487.7 476.3L1487.7 489.7L1475.5 496.4L1463.3 489.7L1463.3 476.3Z" fill="#800080"/><path d="M1413.5 551.5H1453.5M1498.5 551.5H1537.5" stroke="#ff80ff" stroke-width="9" stroke-linecap="round" fill="none"/><path d="M1475.5 568.8L1490.3 542.8L1460.7 542.8Z" fill="#ff80ff"/><g filter="url(#bw)"><text x="1553.8" y="161" font-size="56.2">a=2mm</text>
<text x="1553.8" y="229.5" font-size="56.2">a=2.5mm</text>
<text x="1553.8" y="298" font-size="56.2">a=3mm</text>
<text x="1553.8" y="366.5" font-size="56.2">a=3.5mm</text>
<text x="1553.8" y="435" font-size="56.2">a=4mm</text>
<text x="1553.8" y="503.5" font-size="56.2">a=4.5mm</text>
<text x="1553.8" y="572" font-size="56.2">a=5mm</text>
</g>
</svg>
</body></html>
